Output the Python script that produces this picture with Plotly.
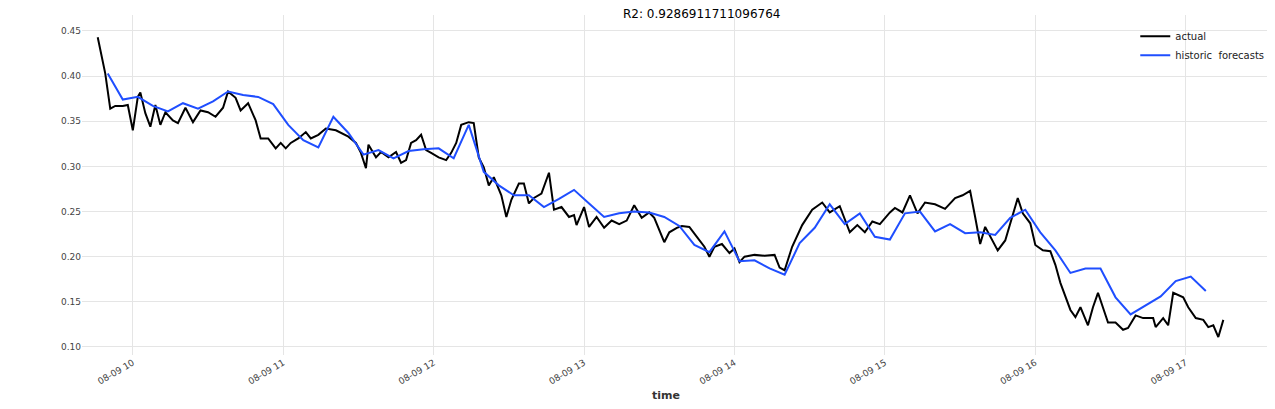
import plotly.graph_objects as go
import pandas as pd

day = "2020-08-09 "
actual_time = ["09:46","09:49","09:51","09:53","09:56","09:58","10:00","10:02","10:03","10:05","10:07","10:09","10:11","10:13","10:16","10:18","10:21","10:24","10:27","10:30","10:33","10:36","10:38","10:41","10:43","10:46","10:49","10:51","10:54","10:57","10:59","11:01","11:03","11:06","11:09","11:11","11:14","11:17","11:21","11:23","11:26","11:29","11:31","11:33","11:34","11:37","11:39","11:42","11:45","11:47","11:49","11:51","11:53","11:55","11:57","11:59","12:02","12:05","12:07","12:09","12:11","12:14","12:16","12:18",
"12:20","12:22","12:24","12:27","12:29","12:31","12:34","12:36","12:38","12:40","12:43","12:46","12:48","12:51","12:54","12:56","12:57","13:00","13:02","13:05","13:08","13:11","13:14","13:17","13:20","13:23","13:26","13:28","13:32","13:34","13:37","13:39","13:42","13:45","13:48","13:50","13:52","13:55","13:58","14:00","14:02","14:04","14:08","14:12","14:16","14:18","14:20","14:23","14:27","14:31",
"14:35","14:38","14:42","14:46","14:49","14:52","14:55","14:58","15:02","15:04","15:07","15:10","15:13","15:16","15:20","15:24","15:28","15:31","15:34","15:36","15:38","15:40","15:42","15:45","15:48","15:50","15:53","15:55","15:58","16:00","16:03","16:06","16:08","16:10","16:12","16:14","16:16","16:18","16:21","16:23","16:25","16:27","16:29","16:32","16:35","16:37","16:40","16:43","16:47","16:48","16:51","16:53","16:55","16:59","17:01","17:04","17:07","17:09","17:11","17:13","17:15"]
actual_vals = [.443,.403,.364,.367,.367,.368,.340,.377,.382,.359,.344,.368,.346,.360,.351,.348,.365,.349,.362,.360,.355,.365,.383,.376,.362,.370,.351,.331,.331,.320,.326,.320,.326,.331,.338,.331,.335,.342,.340,.337,.333,.326,.315,.298,.324,.310,.316,.310,.316,.304,.307,.326,.329,.335,.318,.315,.310,.307,.315,.326,.346,.349,.348,.310,
.299,.279,.288,.268,.244,.263,.281,.281,.259,.265,.270,.293,.252,.255,.244,.246,.235,.255,.233,.244,.232,.240,.236,.240,.257,.243,.249,.243,.216,.227,.232,.234,.233,.222,.211,.200,.211,.214,.204,.209,.194,.200,.202,.201,.202,.188,.185,.211,.235,.252,
.260,.249,.256,.227,.235,.227,.239,.236,.249,.254,.249,.268,.248,.260,.258,.253,.265,.268,.273,.244,.214,.233,.222,.207,.218,.237,.265,.248,.237,.213,.207,.206,.191,.171,.155,.141,.133,.144,.124,.144,.160,.144,.127,.127,.119,.121,.135,.132,.132,.122,.132,.124,.160,.155,.144,.132,.130,.122,.124,.111,.130]

forecast_start = "2020-08-09 09:50"
forecast_step = "6min"
forecast_vals = [.403,.374,.377,.367,.361,.370,.364,.372,.383,.379,.377,.369,.346,.329,.321,.355,.337,.313,.318,.309,.317,.319,.320,.309,.346,.294,.279,.268,.268,.255,.264,.274,.259,.244,.248,.250,.249,.244,.234,.213,.205,.228,.195,.196,.187,.180,.215,.232,.258,.236,.248,.222,.219,.248,.250,.228,.236,.226,.227,.224,.243,.252,.227,.207,.182,.187,.187,.155,.136,.146,.156,.173,.178,.162]

ax = pd.to_datetime([day + t for t in actual_time])
fx = pd.date_range(forecast_start, periods=len(forecast_vals), freq=forecast_step)

fig = go.Figure()
fig.add_trace(go.Scatter(x=ax, y=actual_vals, mode="lines", name="actual",
                         line=dict(color="black", width=2)))
fig.add_trace(go.Scatter(x=fx, y=forecast_vals, mode="lines", name="historic  forecasts",
                         line=dict(color="#1f4eff", width=2)))
fig.update_layout(
    width=1275, height=409, margin=dict(l=74, r=0, t=7, b=62),
    paper_bgcolor="white", plot_bgcolor="white",
    font=dict(family="DejaVu Sans", size=10, color="#333"),
    title=dict(text="R2: 0.9286911711096764", x=0.516, xref="paper", y=0.995, xanchor="center", yanchor="top",
               font=dict(size=12, color="black")),
    legend=dict(x=0.877, y=0.98, xanchor="left", yanchor="top", bgcolor="rgba(0,0,0,0)",
                font=dict(size=10, color="#222"), tracegroupgap=0),
    showlegend=True,
    annotations=[dict(text="<b>time</b>", xref="paper", yref="paper", x=0.486, y=-0.118,
                      xanchor="center", yanchor="middle", showarrow=False,
                      font=dict(size=11, color="#333"))],
)
fig.update_xaxes(range=["2020-08-09 09:39:44", "2020-08-09 17:38:48"], tickformat="%m-%d %H",
                 dtick=3600000, tickangle=-30, showgrid=True, gridcolor="#e5e5e5",
                 zeroline=False, showline=False, ticks="", tickfont=dict(size=9, color="#444"))
fig.update_yaxes(range=[0.0911, 0.4677], dtick=0.05, tickformat=".2f", showgrid=True,
                 gridcolor="#e5e5e5", zeroline=False, showline=False, ticks="",
                 tickfont=dict(size=9, color="#444"))
fig.write_html("out.html")
